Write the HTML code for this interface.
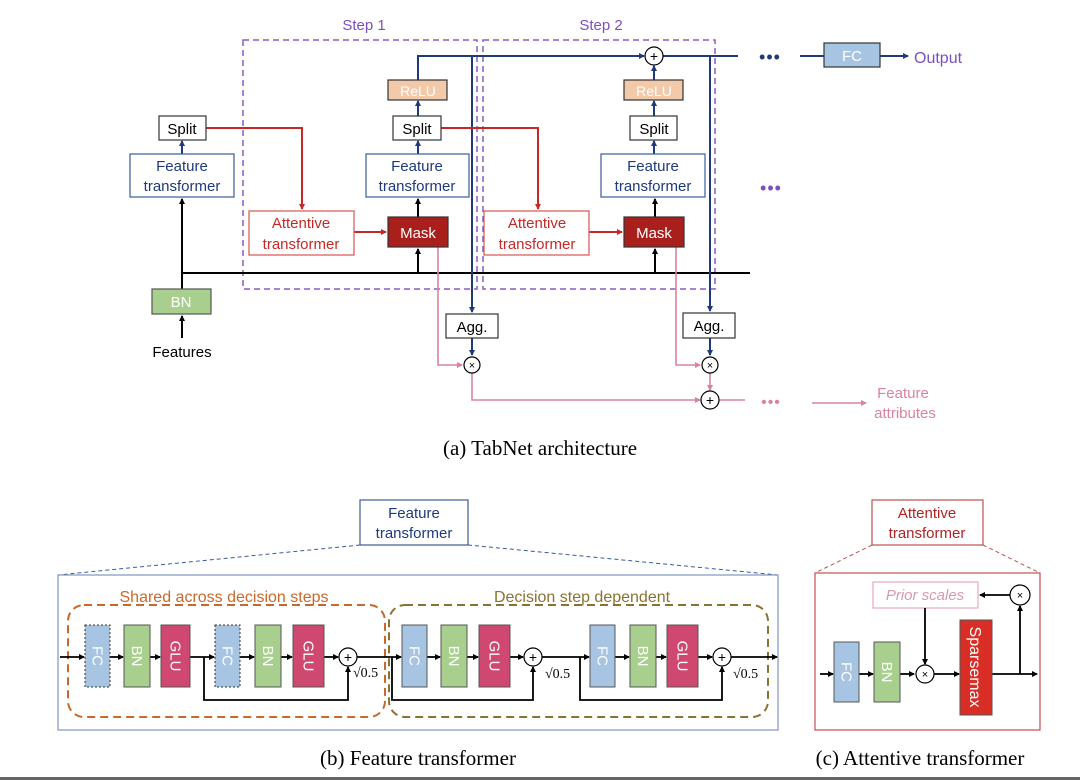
<!DOCTYPE html>
<html><head><meta charset="utf-8"><style>
html,body{margin:0;padding:0;background:#fff;}
svg{display:block;}
.s{font-family:"Liberation Sans",sans-serif;}
.r{font-family:"Liberation Serif",serif;}
</style></head><body>
<svg width="1080" height="780" viewBox="0 0 1080 780" xmlns="http://www.w3.org/2000/svg">
<defs>
<marker id="ab" markerWidth="6" markerHeight="6" refX="5" refY="3" orient="auto" markerUnits="userSpaceOnUse"><path d="M0,0 L6,3 L0,6z" fill="#000"/></marker>
<marker id="an" markerWidth="6" markerHeight="6" refX="5" refY="3" orient="auto" markerUnits="userSpaceOnUse"><path d="M0,0 L6,3 L0,6z" fill="#1f3a7a"/></marker>
<marker id="ar" markerWidth="6" markerHeight="6" refX="5" refY="3" orient="auto" markerUnits="userSpaceOnUse"><path d="M0,0 L6,3 L0,6z" fill="#c62828"/></marker>
<marker id="ap" markerWidth="6" markerHeight="6" refX="5" refY="3" orient="auto" markerUnits="userSpaceOnUse"><path d="M0,0 L6,3 L0,6z" fill="#d9839f"/></marker>
</defs>

<!-- (a) -->
<rect x="243" y="40" width="234" height="249" fill="none" stroke="#8a5bc9" stroke-width="1.5" stroke-dasharray="6,4"/>
<rect x="483" y="40" width="232" height="249" fill="none" stroke="#8a5bc9" stroke-width="1.5" stroke-dasharray="6,4"/>
<text x="364" y="30" class="s" font-size="15" fill="#7b4fbf" text-anchor="middle">Step 1</text>
<text x="601" y="30" class="s" font-size="15" fill="#7b4fbf" text-anchor="middle">Step 2</text>

<!-- black lines -->
<line x1="182" y1="273" x2="750" y2="273" stroke="#000" stroke-width="2"/>
<line x1="182" y1="289" x2="182" y2="199" stroke="#000" stroke-width="2" marker-end="url(#ab)"/>
<line x1="182" y1="338" x2="182" y2="316" stroke="#000" stroke-width="2" marker-end="url(#ab)"/>
<line x1="418" y1="273" x2="418" y2="249" stroke="#000" stroke-width="2" marker-end="url(#ab)"/>
<line x1="418" y1="217" x2="418" y2="199" stroke="#000" stroke-width="2" marker-end="url(#ab)"/>
<line x1="655" y1="273" x2="655" y2="249" stroke="#000" stroke-width="2" marker-end="url(#ab)"/>
<line x1="655" y1="217" x2="655" y2="199" stroke="#000" stroke-width="2" marker-end="url(#ab)"/>

<!-- navy lines -->
<line x1="182" y1="154" x2="182" y2="141" stroke="#1f3a7a" stroke-width="2" marker-end="url(#an)"/>
<line x1="418" y1="154" x2="418" y2="141" stroke="#1f3a7a" stroke-width="2" marker-end="url(#an)"/>
<line x1="418" y1="116" x2="418" y2="101" stroke="#1f3a7a" stroke-width="2" marker-end="url(#an)"/>
<line x1="654" y1="154" x2="654" y2="141" stroke="#1f3a7a" stroke-width="2" marker-end="url(#an)"/>
<line x1="654" y1="116" x2="654" y2="101" stroke="#1f3a7a" stroke-width="2" marker-end="url(#an)"/>
<line x1="654" y1="80" x2="654" y2="66" stroke="#1f3a7a" stroke-width="2" marker-end="url(#an)"/>
<polyline points="418,80 418,56 644,56" fill="none" stroke="#1f3a7a" stroke-width="2" marker-end="url(#an)"/>
<line x1="663" y1="56" x2="738" y2="56" stroke="#1f3a7a" stroke-width="2"/>
<line x1="472" y1="56" x2="472" y2="312" stroke="#1f3a7a" stroke-width="2" marker-end="url(#an)"/>
<line x1="472" y1="338" x2="472" y2="355" stroke="#1f3a7a" stroke-width="2" marker-end="url(#an)"/>
<line x1="710" y1="56" x2="710" y2="311" stroke="#1f3a7a" stroke-width="2" marker-end="url(#an)"/>
<line x1="710" y1="338" x2="710" y2="355" stroke="#1f3a7a" stroke-width="2" marker-end="url(#an)"/>
<text x="770" y="63" class="s" font-size="18" fill="#1f3a7a" text-anchor="middle" letter-spacing="1">•••</text>
<line x1="800" y1="56" x2="824" y2="56" stroke="#1f3a7a" stroke-width="2"/>
<line x1="880" y1="56" x2="908" y2="56" stroke="#1f3a7a" stroke-width="2" marker-end="url(#an)"/>
<rect x="824" y="43" width="56" height="24" fill="#a7c5e3" stroke="#333" stroke-width="1.2"/>
<text x="852" y="61" class="s" font-size="15" fill="#fff" text-anchor="middle">FC</text>
<text x="914" y="63" class="s" font-size="16" fill="#7b4fbf">Output</text>
<text x="771" y="194" class="s" font-size="18" fill="#7b4fbf" text-anchor="middle" letter-spacing="1">•••</text>

<!-- red lines -->
<polyline points="206,128 302,128 302,209" fill="none" stroke="#c62828" stroke-width="2" marker-end="url(#ar)"/>
<polyline points="441,128 538,128 538,209" fill="none" stroke="#c62828" stroke-width="2" marker-end="url(#ar)"/>
<line x1="354" y1="232" x2="386" y2="232" stroke="#c62828" stroke-width="2" marker-end="url(#ar)"/>
<line x1="589" y1="232" x2="622" y2="232" stroke="#c62828" stroke-width="2" marker-end="url(#ar)"/>

<!-- pink lines -->
<polyline points="438,247 438,365 462,365" fill="none" stroke="#d9839f" stroke-width="1.6" marker-end="url(#ap)"/>
<polyline points="676,247 676,365 700,365" fill="none" stroke="#d9839f" stroke-width="1.6" marker-end="url(#ap)"/>
<polyline points="472,373 472,400 700,400" fill="none" stroke="#d9839f" stroke-width="1.6" marker-end="url(#ap)"/>
<line x1="710" y1="373" x2="710" y2="390" stroke="#d9839f" stroke-width="1.6" marker-end="url(#ap)"/>
<line x1="719" y1="400" x2="745" y2="400" stroke="#d9839f" stroke-width="1.6"/>
<text x="771" y="407" class="s" font-size="16" fill="#d9839f" text-anchor="middle" letter-spacing="1">•••</text>
<line x1="812" y1="403" x2="866" y2="403" stroke="#d9839f" stroke-width="1.6" marker-end="url(#ap)"/>
<text x="903" y="398" class="s" font-size="15" fill="#d9839f" text-anchor="middle">Feature</text>
<text x="905" y="418" class="s" font-size="15" fill="#d9839f" text-anchor="middle">attributes</text>

<!-- boxes (a) -->
<g class="s" text-anchor="middle">
<rect x="159" y="116" width="47" height="24" fill="#fff" stroke="#333" stroke-width="1.2"/>
<text x="182" y="134" font-size="15">Split</text>
<rect x="130" y="154" width="104" height="43" fill="#fff" stroke="#3b5a9a" stroke-width="1.2"/>
<text x="182" y="171" font-size="15" fill="#1f3a7a">Feature</text>
<text x="182" y="191" font-size="15" fill="#1f3a7a">transformer</text>
<rect x="152" y="289" width="59" height="25" fill="#a9cf8f" stroke="#555" stroke-width="1.2"/>
<text x="181" y="307" font-size="15" fill="#fff">BN</text>
<text x="182" y="357" font-size="15">Features</text>

<rect x="249" y="211" width="105" height="44" fill="#fff" stroke="#d9534f" stroke-width="1.2"/>
<text x="301" y="228" font-size="15" fill="#c62828">Attentive</text>
<text x="301" y="249" font-size="15" fill="#c62828">transformer</text>
<rect x="388" y="217" width="60" height="30" fill="#a81f1b" stroke="#333" stroke-width="1.2"/>
<text x="418" y="238" font-size="15" fill="#fff">Mask</text>
<rect x="366" y="154" width="103" height="43" fill="#fff" stroke="#3b5a9a" stroke-width="1.2"/>
<text x="417" y="171" font-size="15" fill="#1f3a7a">Feature</text>
<text x="417" y="191" font-size="15" fill="#1f3a7a">transformer</text>
<rect x="393" y="116" width="48" height="24" fill="#fff" stroke="#333" stroke-width="1.2"/>
<text x="417" y="134" font-size="15">Split</text>
<rect x="388" y="80" width="59" height="20" fill="#f2c9a9" stroke="#333" stroke-width="1.2"/>
<text x="418" y="96" font-size="14" fill="#fff">ReLU</text>

<rect x="484" y="211" width="105" height="44" fill="#fff" stroke="#d9534f" stroke-width="1.2"/>
<text x="537" y="228" font-size="15" fill="#c62828">Attentive</text>
<text x="537" y="249" font-size="15" fill="#c62828">transformer</text>
<rect x="624" y="217" width="60" height="30" fill="#a81f1b" stroke="#333" stroke-width="1.2"/>
<text x="654" y="238" font-size="15" fill="#fff">Mask</text>
<rect x="601" y="154" width="104" height="43" fill="#fff" stroke="#3b5a9a" stroke-width="1.2"/>
<text x="653" y="171" font-size="15" fill="#1f3a7a">Feature</text>
<text x="653" y="191" font-size="15" fill="#1f3a7a">transformer</text>
<rect x="630" y="116" width="47" height="24" fill="#fff" stroke="#333" stroke-width="1.2"/>
<text x="654" y="134" font-size="15">Split</text>
<rect x="624" y="80" width="59" height="20" fill="#f2c9a9" stroke="#333" stroke-width="1.2"/>
<text x="654" y="96" font-size="14" fill="#fff">ReLU</text>

<rect x="446" y="314" width="52" height="24" fill="#fff" stroke="#333" stroke-width="1.2"/>
<text x="472" y="332" font-size="15">Agg.</text>
<rect x="683" y="313" width="52" height="25" fill="#fff" stroke="#333" stroke-width="1.2"/>
<text x="709" y="331" font-size="15">Agg.</text>

<circle cx="654" cy="56" r="9" fill="#fff" stroke="#000" stroke-width="1.2"/>
<text x="654" y="61" font-size="14">+</text>
<circle cx="472" cy="365" r="8" fill="#fff" stroke="#000" stroke-width="1.2"/>
<text x="472" y="369" font-size="11">×</text>
<circle cx="710" cy="365" r="8" fill="#fff" stroke="#000" stroke-width="1.2"/>
<text x="710" y="369" font-size="11">×</text>
<circle cx="710" cy="400" r="9" fill="#fff" stroke="#000" stroke-width="1.2"/>
<text x="710" y="405" font-size="14">+</text>
</g>
<text x="540" y="455" class="r" font-size="21" text-anchor="middle">(a)  TabNet architecture</text>

<!-- (b) -->
<line x1="360" y1="545" x2="58" y2="575" stroke="#3b5a9a" stroke-width="1" stroke-dasharray="4,3"/>
<line x1="468" y1="545" x2="778" y2="575" stroke="#3b5a9a" stroke-width="1" stroke-dasharray="4,3"/>
<rect x="360" y="500" width="108" height="45" fill="#fff" stroke="#3b5a9a" stroke-width="1.2"/>
<text x="414" y="518" class="s" font-size="15" fill="#1f3a7a" text-anchor="middle">Feature</text>
<text x="414" y="538" class="s" font-size="15" fill="#1f3a7a" text-anchor="middle">transformer</text>
<rect x="58" y="575" width="720" height="155" fill="none" stroke="#7f95c0" stroke-width="1.2"/>
<rect x="68" y="605" width="317" height="112" rx="16" fill="none" stroke="#c8682a" stroke-width="2" stroke-dasharray="8,5"/>
<rect x="389" y="605" width="379" height="112" rx="16" fill="none" stroke="#8a7230" stroke-width="2" stroke-dasharray="8,5"/>
<text x="224" y="602" class="s" font-size="16" fill="#c8682a" text-anchor="middle">Shared across decision steps</text>
<text x="582" y="602" class="s" font-size="16" fill="#8a7230" text-anchor="middle">Decision step dependent</text>

<g stroke="#000" stroke-width="1.8" fill="none">
<line x1="60" y1="657" x2="84" y2="657" marker-end="url(#ab)"/>
<line x1="110" y1="657" x2="123" y2="657" marker-end="url(#ab)"/>
<line x1="150" y1="657" x2="160" y2="657" marker-end="url(#ab)"/>
<line x1="190" y1="657" x2="214" y2="657" marker-end="url(#ab)"/>
<line x1="240" y1="657" x2="254" y2="657" marker-end="url(#ab)"/>
<line x1="281" y1="657" x2="292" y2="657" marker-end="url(#ab)"/>
<line x1="324" y1="657" x2="338" y2="657" marker-end="url(#ab)"/>
<polyline points="204,657 204,700 348,700 348,667" marker-end="url(#ab)"/>
<line x1="357" y1="657" x2="401" y2="657" marker-end="url(#ab)"/>
<line x1="427" y1="657" x2="440" y2="657" marker-end="url(#ab)"/>
<line x1="467" y1="657" x2="478" y2="657" marker-end="url(#ab)"/>
<line x1="510" y1="657" x2="523" y2="657" marker-end="url(#ab)"/>
<polyline points="392,657 392,700 533,700 533,667" marker-end="url(#ab)"/>
<line x1="542" y1="657" x2="589" y2="657" marker-end="url(#ab)"/>
<line x1="615" y1="657" x2="629" y2="657" marker-end="url(#ab)"/>
<line x1="656" y1="657" x2="666" y2="657" marker-end="url(#ab)"/>
<line x1="698" y1="657" x2="712" y2="657" marker-end="url(#ab)"/>
<polyline points="580,657 580,700 722,700 722,667" marker-end="url(#ab)"/>
<line x1="731" y1="657" x2="777" y2="657" marker-end="url(#ab)"/>
</g>
<g class="s" font-size="15" fill="#fff" text-anchor="middle">
<rect x="85" y="625" width="25" height="62" fill="#a7c5e3" stroke="#333" stroke-dasharray="2,2"/>
<text transform="translate(97.5,656) rotate(90)" y="5">FC</text>
<rect x="124" y="625" width="26" height="62" fill="#a9cf8f" stroke="#555"/>
<text transform="translate(137,656) rotate(90)" y="5">BN</text>
<rect x="161" y="625" width="29" height="62" fill="#cf4870" stroke="#555"/>
<text transform="translate(175.5,656) rotate(90)" y="5">GLU</text>
<rect x="215" y="625" width="25" height="62" fill="#a7c5e3" stroke="#333" stroke-dasharray="2,2"/>
<text transform="translate(227.5,656) rotate(90)" y="5">FC</text>
<rect x="255" y="625" width="26" height="62" fill="#a9cf8f" stroke="#555"/>
<text transform="translate(268,656) rotate(90)" y="5">BN</text>
<rect x="293" y="625" width="31" height="62" fill="#cf4870" stroke="#555"/>
<text transform="translate(308.5,656) rotate(90)" y="5">GLU</text>
<rect x="402" y="625" width="25" height="62" fill="#a7c5e3" stroke="#555"/>
<text transform="translate(414.5,656) rotate(90)" y="5">FC</text>
<rect x="441" y="625" width="26" height="62" fill="#a9cf8f" stroke="#555"/>
<text transform="translate(454,656) rotate(90)" y="5">BN</text>
<rect x="479" y="625" width="31" height="62" fill="#cf4870" stroke="#555"/>
<text transform="translate(494.5,656) rotate(90)" y="5">GLU</text>
<rect x="590" y="625" width="25" height="62" fill="#a7c5e3" stroke="#555"/>
<text transform="translate(602.5,656) rotate(90)" y="5">FC</text>
<rect x="630" y="625" width="26" height="62" fill="#a9cf8f" stroke="#555"/>
<text transform="translate(643,656) rotate(90)" y="5">BN</text>
<rect x="667" y="625" width="31" height="62" fill="#cf4870" stroke="#555"/>
<text transform="translate(682.5,656) rotate(90)" y="5">GLU</text>
</g>
<g class="s" text-anchor="middle" font-size="14">
<circle cx="348" cy="657" r="9" fill="#fff" stroke="#000" stroke-width="1.2"/><text x="348" y="662">+</text>
<circle cx="533" cy="657" r="9" fill="#fff" stroke="#000" stroke-width="1.2"/><text x="533" y="662">+</text>
<circle cx="722" cy="657" r="9" fill="#fff" stroke="#000" stroke-width="1.2"/><text x="722" y="662">+</text>
</g>
<g class="r" font-size="14">
<text x="353" y="677">√0.5</text>
<text x="545" y="678">√0.5</text>
<text x="733" y="678">√0.5</text>
</g>
<text x="418" y="765" class="r" font-size="21" text-anchor="middle">(b)  Feature transformer</text>

<!-- (c) -->
<line x1="872" y1="545" x2="815" y2="573" stroke="#c0504d" stroke-width="1" stroke-dasharray="4,3"/>
<line x1="983" y1="545" x2="1040" y2="573" stroke="#c0504d" stroke-width="1" stroke-dasharray="4,3"/>
<rect x="872" y="500" width="111" height="45" fill="#fff" stroke="#c0504d" stroke-width="1.2"/>
<text x="927" y="518" class="s" font-size="15" fill="#b22222" text-anchor="middle">Attentive</text>
<text x="927" y="538" class="s" font-size="15" fill="#b22222" text-anchor="middle">transformer</text>
<rect x="815" y="573" width="225" height="157" fill="none" stroke="#c0504d" stroke-width="1.2"/>
<rect x="873" y="582" width="105" height="26" fill="#fff" stroke="#e6a9b8" stroke-width="1.2"/>
<text x="925" y="600" class="s" font-size="15" font-style="italic" fill="#d89aaa" text-anchor="middle">Prior scales</text>
<g stroke="#000" stroke-width="1.8" fill="none">
<line x1="820" y1="674" x2="833" y2="674" marker-end="url(#ab)"/>
<line x1="859" y1="674" x2="873" y2="674" marker-end="url(#ab)"/>
<line x1="900" y1="674" x2="914" y2="674" marker-end="url(#ab)"/>
<line x1="925" y1="608" x2="925" y2="664" marker-end="url(#ab)"/>
<line x1="934" y1="674" x2="959" y2="674" marker-end="url(#ab)"/>
<line x1="992" y1="674" x2="1037" y2="674" marker-end="url(#ab)"/>
<line x1="1020" y1="674" x2="1020" y2="606" marker-end="url(#ab)"/>
<line x1="1010" y1="595" x2="980" y2="595" marker-end="url(#ab)"/>
</g>
<rect x="834" y="642" width="25" height="60" fill="#a7c5e3" stroke="#555"/>
<text transform="translate(846.5,672) rotate(90)" y="5" class="s" font-size="15" fill="#fff" text-anchor="middle">FC</text>
<rect x="874" y="642" width="26" height="60" fill="#a9cf8f" stroke="#555"/>
<text transform="translate(887,672) rotate(90)" y="5" class="s" font-size="15" fill="#fff" text-anchor="middle">BN</text>
<rect x="960" y="620" width="32" height="95" fill="#d92e25" stroke="#555"/>
<text transform="translate(976,667) rotate(90)" y="6" class="s" font-size="16" fill="#fff" text-anchor="middle">Sparsemax</text>
<circle cx="925" cy="674" r="9" fill="#fff" stroke="#000" stroke-width="1.2"/>
<text x="925" y="678" class="s" font-size="11" text-anchor="middle">×</text>
<circle cx="1020" cy="595" r="10" fill="#fff" stroke="#000" stroke-width="1.2"/>
<text x="1020" y="599" class="s" font-size="11" text-anchor="middle">×</text>
<text x="920" y="765" class="r" font-size="21" text-anchor="middle">(c)  Attentive transformer</text>

<line x1="0" y1="778.5" x2="1080" y2="778.5" stroke="#666" stroke-width="3"/>
</svg>
</body></html>
